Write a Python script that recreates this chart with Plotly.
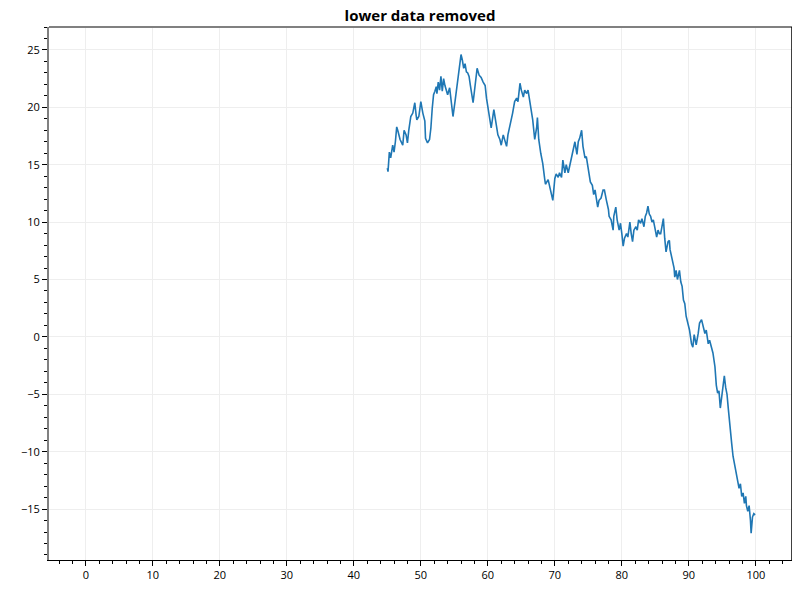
import plotly.graph_objects as go

# values
xs = [45.0, 45.1, 45.3, 45.5, 45.8, 46.0, 46.2, 46.4, 46.6, 46.9, 47.3, 47.5, 47.8, 48.0, 48.2, 48.5,
      48.8, 49.1, 49.3, 49.4, 49.7, 50.0, 50.3, 50.6, 50.7, 51.0, 51.3, 51.5, 51.7, 51.9, 52.1, 52.3,
      52.4, 52.6, 52.8, 53.0, 53.2, 53.4, 53.6, 53.8, 54.0, 54.3, 54.5, 54.7, 54.8, 55.1, 55.4, 55.6,
      55.8, 56.0, 56.2, 56.4, 56.6, 56.8, 57.0, 57.2, 57.4, 57.6, 57.8, 58.0, 58.3, 58.4, 58.7, 59.0,
      59.3, 59.6, 59.8, 60.3, 60.5, 60.9, 61.2, 61.5, 61.8, 62.0, 62.3, 62.5, 62.8, 63.0, 63.3, 63.7,
      64.0, 64.3, 64.5, 64.8, 65.0, 65.3, 65.5, 65.8, 66.0, 66.3, 66.7, 67.0, 67.3, 67.4, 67.6, 67.9,
      68.2, 68.5, 68.6, 69.0, 69.3, 69.5, 69.7, 70.0, 70.2, 70.5, 70.7, 71.0, 71.2, 71.5, 71.7, 72.0,
      72.2, 72.7, 73.0, 73.3, 73.5, 73.7, 74.0, 74.2, 74.5, 74.7, 75.0, 75.3, 75.6, 75.8, 76.0, 76.2,
      76.4, 76.6, 76.9, 77.2, 77.4, 77.7, 78.0, 78.1, 78.4, 78.7, 78.8, 79.1, 79.3, 79.6, 79.8, 80.0,
      80.2, 80.4, 80.7, 80.9, 81.2, 81.4, 81.6, 81.8, 82.1, 82.3, 82.5, 82.8, 83.0, 83.3, 83.5, 83.7,
      83.9, 84.1, 84.3, 84.5, 84.7, 84.9, 85.2, 85.4, 85.6, 85.8, 86.0, 86.2, 86.4, 86.6, 86.9, 87.1,
      87.2, 87.4, 87.6, 87.8, 87.9, 88.1, 88.3, 88.5, 88.6, 88.8, 89.0, 89.2, 89.4, 89.6, 89.9, 90.1,
      90.4, 90.6, 90.8, 91.1, 91.4, 91.6, 91.9, 92.1, 92.4, 92.6, 92.9, 93.1, 93.4, 93.6, 93.9, 94.1,
      94.3, 94.5, 94.7, 94.9, 95.1, 95.3, 95.5, 95.7, 95.9, 96.1, 96.4, 96.6, 96.9, 97.1, 97.3, 97.5,
      97.7, 97.9, 98.1, 98.3, 98.5, 98.6, 98.8, 99.0, 99.2, 99.3, 99.5, 99.7, 99.9]
ys = [14.7, 14.4, 16.1, 15.6, 16.7, 16.1, 17.0, 18.3, 17.9, 17.2, 16.7, 18.0, 17.6, 16.9, 18.0, 19.2,
      19.5, 20.4, 19.3, 18.9, 19.2, 20.5, 19.5, 18.8, 17.3, 16.9, 17.2, 18.2, 19.9, 21.1, 21.4, 21.8,
      21.2, 22.2, 21.5, 22.7, 21.4, 22.5, 21.9, 21.4, 21.1, 21.7, 20.8, 19.6, 19.2, 20.5, 21.9, 22.5,
      23.7, 24.6, 24.1, 23.4, 23.8, 23.1, 23.0, 22.7, 21.9, 21.1, 20.4, 21.4, 23.1, 23.4, 22.8, 22.6,
      22.2, 21.9, 20.8, 19.0, 18.2, 19.8, 18.8, 17.6, 17.2, 16.7, 17.6, 17.2, 16.6, 17.6, 18.3, 19.5,
      20.5, 20.8, 20.5, 22.1, 21.5, 20.9, 21.5, 21.2, 21.5, 20.4, 18.9, 17.2, 18.3, 19.1, 17.2, 16.0,
      15.1, 13.7, 13.3, 13.7, 12.9, 12.5, 11.9, 13.8, 14.2, 13.9, 14.3, 13.9, 15.4, 14.3, 15.0, 14.3,
      14.8, 16.0, 17.0, 15.9, 17.0, 17.3, 18.0, 16.6, 15.6, 15.7, 14.7, 13.5, 13.2, 12.4, 12.8, 12.2,
      11.3, 11.9, 12.1, 12.8, 12.8, 11.9, 11.1, 10.5, 10.2, 9.3, 10.5, 11.3, 10.2, 9.3, 9.9, 9.0,
      7.9, 8.6, 9.0, 8.7, 10.0, 9.0, 8.3, 9.3, 9.6, 9.3, 10.2, 9.9, 10.3, 9.6, 10.5, 10.8,
      11.4, 10.7, 10.5, 10.0, 10.2, 9.6, 8.7, 9.3, 9.0, 9.0, 9.6, 10.3, 8.6, 7.4, 8.3, 8.4,
      7.6, 7.0, 6.4, 6.0, 5.2, 5.8, 5.0, 5.4, 5.8, 4.8, 4.4, 3.2, 2.9, 1.8, 1.0, 0.6,
      -0.6, -0.9, 0.2, -0.7, 0.3, 1.2, 1.5, 0.9, 0.3, 0.6, -0.6, -0.3, -1.0, -1.4, -2.6, -4.2,
      -4.9, -4.7, -6.2, -5.3, -4.2, -3.4, -4.4, -5.0, -6.3, -7.8, -9.3, -10.4, -11.3, -12.0, -12.4, -13.2,
      -12.8, -13.9, -13.6, -14.5, -13.9, -14.7, -15.2, -14.7, -16.0, -17.1, -15.7, -15.4, -15.5]

fig = go.Figure()
fig.add_trace(go.Scatter(x=xs, y=ys, mode='lines', line=dict(color='#1f77b4', width=1.6),
                         showlegend=False))

axis_font = dict(family='Open Sans, DejaVu Sans, sans-serif', size=11, color='black')

# the page body adds an 8px offset, so margins are set to compensate
fig.update_layout(
    width=800, height=600,
    title=dict(text='<b>lower data removed</b>', x=0.515, xanchor='center',
               y=1, yref='container', yanchor='top', pad=dict(t=2, b=0),
               font=dict(family='Open Sans, DejaVu Sans, sans-serif', size=15, color='black')),
    paper_bgcolor='white', plot_bgcolor='white',
    margin=dict(l=41, r=16, t=19, b=48),
    xaxis=dict(range=[-5.5, 105.4], tickvals=[0, 10, 20, 30, 40, 50, 60, 70, 80, 90, 100],
               showgrid=True, gridcolor='#eeeeee', gridwidth=1, zeroline=False,
               showline=True, linecolor='black', linewidth=1,
               ticks='outside', ticklen=5, tickcolor='black', tickfont=axis_font,
               minor=dict(dtick=2, tick0=0, ticks='outside', ticklen=3, tickcolor='black', showgrid=False)),
    yaxis=dict(range=[-19.44, 27.0], tickvals=[-15, -10, -5, 0, 5, 10, 15, 20, 25],
               showgrid=True, gridcolor='#eeeeee', gridwidth=1, zeroline=False,
               showline=True, linecolor='#808080', linewidth=2,
               ticks='outside', ticklen=5, tickcolor='black', tickfont=axis_font,
               minor=dict(dtick=1, tick0=0, ticks='outside', ticklen=3, tickcolor='black', showgrid=False)),
)

# frame: grey top edge, black right edge
fig.add_shape(type='line', xref='paper', yref='paper', x0=0, x1=1, y0=1, y1=1,
              line=dict(color='#808080', width=2))
fig.add_shape(type='line', xref='paper', yref='paper', x0=1, x1=1, y0=0, y1=1,
              line=dict(color='black', width=1.5))

fig.write_html('out.html')
